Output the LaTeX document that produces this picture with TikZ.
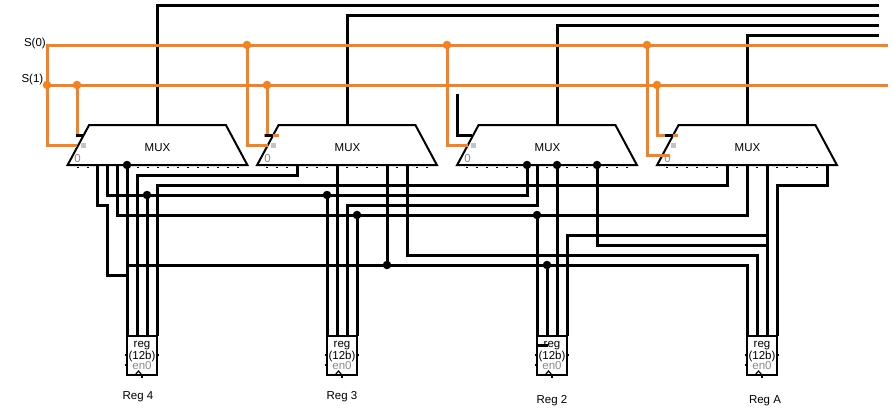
\documentclass[tikz,border=0pt]{standalone}
\usepackage{fontspec}
\setmainfont{Liberation Sans}
\usetikzlibrary{shapes.geometric}
\definecolor{sigor}{HTML}{F5821F}
\definecolor{pingray}{HTML}{C4C4C4}
\definecolor{zerogray}{HTML}{8A8A8A}
\tikzset{
  wire/.style={draw=black,line width=3pt,line cap=butt,line join=miter},
  sig/.style={draw=sigor,line width=3pt,line cap=butt,line join=miter},
  muxbox/.style={draw=black,fill=white,line width=2pt,trapezium,trapezium left angle=63.43,trapezium right angle=63.43,trapezium stretches=true,minimum width=180pt,minimum height=40pt,inner sep=0pt,outer sep=0pt},
  muxtext/.style={font=\fontsize{11.5}{11.5}\selectfont,inner sep=0pt},
  zerotext/.style={font=\fontsize{11.5}{11.5}\selectfont,text=zerogray,inner sep=0pt},
  regbox/.style={draw=black,fill=white,line width=2.4pt,minimum width=30pt,minimum height=39pt,inner sep=0pt,outer sep=0pt,align=center,font=\fontsize{11.5}{10.5}\selectfont},
  caption/.style={font=\fontsize{11.5}{11.5}\selectfont,inner sep=0pt},
  sigdot/.style={circle,fill=sigor,minimum size=8.5pt,inner sep=0pt},
  jdot/.style={circle,fill=black,minimum size=8.5pt,inner sep=0pt},
  pinbox/.style={fill=pingray,minimum size=5pt,inner sep=0pt},
  pintick/.style={draw=black,line width=1pt,dash pattern=on 2pt off 8pt},
  regpin/.style={fill=black,minimum size=2.5pt,inner sep=0pt},
  clk/.style={draw=black,line width=1.2pt,line join=miter},
}
\newcommand{\regtext}{reg\\[0pt](12b)\\[0pt]\textcolor{zerogray}{en0}}
\begin{document}
\begin{tikzpicture}[x=1pt,y=-1pt]
\useasboundingbox (0,0) rectangle (893,418);
% multiplexers
\node[muxbox] (mux1) at (157.5,145) {\phantom{MUX}};
\node[muxbox] (mux2) at (347,145) {\phantom{MUX}};
\node[muxbox] (mux3) at (547,145) {\phantom{MUX}};
\node[muxbox] (mux4) at (747,145) {\phantom{MUX}};
\foreach \m in {mux1,mux2,mux3,mux4}{
  \draw[pintick] ([shift={(9,2.5)}]\m.bottom left corner) -- ([shift={(-3,2.5)}]\m.bottom right corner);
}
\node[muxtext] (t1) at (157.5,147.5) {MUX};
\node[muxtext] (t2) at (347.5,147.5) {MUX};
\node[muxtext] (t3) at (547.5,147.5) {MUX};
\node[muxtext] (t4) at (747.5,147.5) {MUX};
\node[pinbox] (g1) at (83,145) {};
\node[pinbox] (g2) at (273,145) {};
\node[pinbox] (g3) at (473,145) {};
\node[pinbox] (g4) at (673,145) {};
\node[zerotext] (z1) at (77.5,158.5) {0};
\node[zerotext] (z2) at (267.5,158.5) {0};
\node[zerotext] (z3) at (467.5,158.5) {0};
\node[zerotext] (z4) at (667.5,158.5) {0};
% registers
\node[regbox] (reg4) at (142,355.5) {\regtext};
\node[regbox] (reg3) at (342,355.5) {\regtext};
\node[regbox] (reg2) at (552,355.5) {\regtext};
\node[regbox] (rega) at (762,355.5) {\regtext};
\foreach \r in {reg4,reg3,reg2,rega}{
  \draw[clk] ([shift={(-6.5,-0.5)}]\r.south) -- ([shift={(-3.5,-4)}]\r.south) -- ([shift={(-0.5,-0.5)}]\r.south);
  \node[regpin] at ([shift={(-1,-0.5)}]\r.west) {};
  \node[regpin] at ([shift={(-1,9.5)}]\r.west) {};
  \node[regpin] at ([shift={(1,-0.5)}]\r.east) {};
  \node[regpin] at ([shift={(0,1.5)}]\r.south) {};
}
\node[caption] (c4) at (138,397) {Reg 4};
\node[caption] (c3) at (342,397) {Reg 3};
\node[caption] (c2) at (552,401) {Reg 2};
\node[caption] (ca) at (765,401) {Reg A};
\node[caption,anchor=east] (s0) at (46,44) {S(0)};
\node[caption,anchor=east] (s1) at (43.5,80) {S(1)};
% pins and bus ends
\coordinate (m1a) at (97,165); \coordinate (m1b) at (107,165); \coordinate (m1c) at (117,165); \coordinate (m1d) at (127,165);
\coordinate (m2a) at (297,165); \coordinate (m2b) at (337,165); \coordinate (m2c) at (387,165); \coordinate (m2d) at (407,165);
\coordinate (m3a) at (527,165); \coordinate (m3b) at (537,165); \coordinate (m3c) at (557,165); \coordinate (m3d) at (597,165);
\coordinate (m4a) at (727,165); \coordinate (m4b) at (747,165); \coordinate (m4c) at (767,165); \coordinate (m4d) at (827,165);
\coordinate (r4a) at (127,336); \coordinate (r4b) at (137,336); \coordinate (r4c) at (147,336); \coordinate (r4d) at (157,336);
\coordinate (r3a) at (327,336); \coordinate (r3b) at (337,336); \coordinate (r3c) at (347,336); \coordinate (r3d) at (357,336);
\coordinate (r2a) at (537,336); \coordinate (r2b) at (547,336); \coordinate (r2c) at (557,336); \coordinate (r2d) at (567,336);
\coordinate (raa) at (747,336); \coordinate (rab) at (757,336); \coordinate (rac) at (767,336); \coordinate (rad) at (777,336);
\coordinate (b1) at (879,5); \coordinate (b2) at (879,15); \coordinate (b3) at (879,25); \coordinate (b4) at (879,35);
\coordinate (top1) at (157,125); \coordinate (top2) at (347,125); \coordinate (top3) at (557,125); \coordinate (top4) at (747,125);
% data buses into the multiplexers
\draw[wire] (b1) -| (top1);
\draw[wire] (b2) -| (top2);
\draw[wire] (b3) -| (top3);
\draw[wire] (b4) -| (top4);
% multiplexer outputs to registers
\draw[wire] (m1d) -- (r4a);
\draw[wire] (m1a) -- (97,205) -- (107,205) -- (107,275) -- (127,275);
\draw[wire] (m2a) |- (137,175) -- (r4b);
\draw[wire] (m1b) |- (300,195) -| (m3a);
\draw[wire] (r4d) |- (500,185) -| (m4a);
\draw[wire] (m1c) |- (400,215) -| (m4b);
\draw[wire] (127,265) -| (raa);
\draw[wire] (r3c) |- (400,205) -| (m3b);
\draw[wire] (m2b) -- (r3b);
\draw[wire] (m2c) -- (387,265);
\draw[wire] (m2d) |- (600,255) -| (rab);
\draw[wire] (m3c) -- (r2c);
\draw[wire] (m3d) |- (700,245) -| (rac);
\draw[wire] (m4c) -- (rac);
\draw[wire] (r2d) |- (700,235) -- (767,235);
\draw[wire] (m4d) |- (800,185) -| (rad);
% register taps
\draw[wire] (147,195) -- (r4c);
\draw[wire] (327,195) -- (r3a);
\draw[wire] (357,215) -- (r3d);
\draw[wire] (537,215) -- (r2a);
\draw[wire] (547,265) -- (r2b);
\draw[wire] (reg2.north west |- 0,345) -- (548,345);
% select lines
\draw[sig] (888,45) -- (47,45) -- (47,145) -- (77,145);
\draw[sig] (888,85) -- (47,85);
\draw[sig] (77,85) -- (77,135);
\draw[sig] (247,45) -- (247,145) -- (268,145);
\draw[sig] (267,85) -- (267,135);
\draw[sig] (264,135) -- (279,135);
\draw[sig] (447,45) -- (447,145) -- (468,145);
\draw[sig] (647,45) -- (647,155) -- (670,155);
\draw[sig] (657,85) -- (657,135) -- (678,135);
% enable stubs
\draw[wire] (76,135) -- (83,135);
\draw[wire] (265,135) -- (273,135);
\draw[wire] (457,94) -- (457,135) -- (472,135);
\draw[wire] (665,135) -- (673,135);
% junctions
\foreach \n/\p in {sa/{47,85},sb/{77,85},sc/{247,45},sd/{267,85},se/{447,45},sf/{647,45},sg/{657,85}}{
  \node[sigdot] (\n) at (\p) {};
}
\foreach \n/\p in {ja/{127,165},jb/{147,195},jc/{327,195},jd/{357,215},je/{387,265},jf/{527,165},jg/{557,165},jh/{597,165},ji/{537,215},jj/{547,265}}{
  \node[jdot] (\n) at (\p) {};
}
\end{tikzpicture}
\end{document}
